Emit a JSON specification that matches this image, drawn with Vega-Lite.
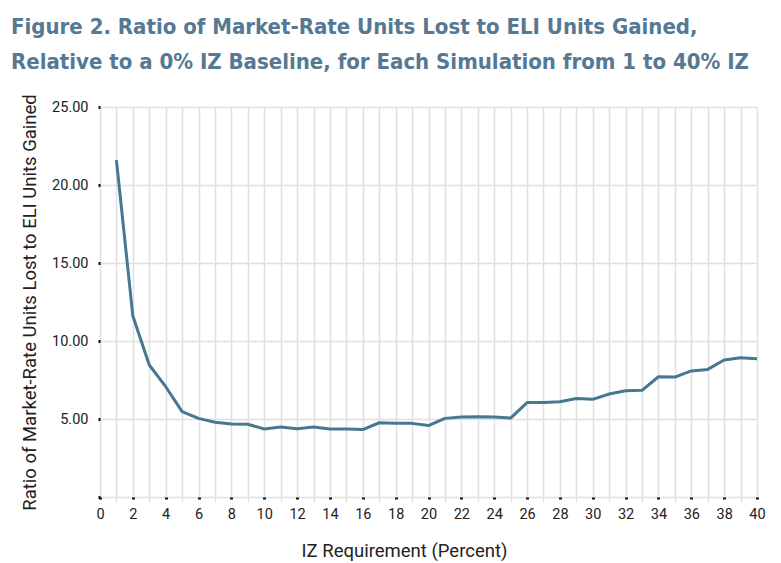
{
  "$schema": "https://vega.github.io/schema/vega-lite/v6.json",
  "autosize": {"type": "none"},
  "padding": {"left": 100, "top": 107, "right": 24, "bottom": 66},
  "width": 657,
  "height": 390,
  "background": "white",
  "title": {
    "text": ["Figure 2. Ratio of Market-Rate Units Lost to ELI Units Gained,", "Relative to a 0% IZ Baseline, for Each Simulation from 1 to 40% IZ"],
    "anchor": "start",
    "frame": "group",
    "dx": -89,
    "offset": 20,
    "font": "DejaVu Sans Condensed, sans-serif",
    "fontSize": 22,
    "fontWeight": "bold",
    "lineHeight": 35,
    "color": "#557893"
  },
  "config": {
    "view": {"stroke": null},
    "axis": {"labelFont": "Roboto", "titleFont": "Roboto", "labelColor": "#222", "titleColor": "#222", "titleFontWeight": "normal", "domain": false, "gridColor": "#e0e0e0", "gridWidth": 1.5}
  },
  "data": {"values": [
    {"iz": 1, "ratio": 21.6}, {"iz": 2, "ratio": 11.6}, {"iz": 3, "ratio": 8.46}, {"iz": 4, "ratio": 7.07},
    {"iz": 5, "ratio": 5.47}, {"iz": 6, "ratio": 5.04}, {"iz": 7, "ratio": 4.79}, {"iz": 8, "ratio": 4.68},
    {"iz": 9, "ratio": 4.66}, {"iz": 10, "ratio": 4.36}, {"iz": 11, "ratio": 4.49}, {"iz": 12, "ratio": 4.38},
    {"iz": 13, "ratio": 4.49}, {"iz": 14, "ratio": 4.36}, {"iz": 15, "ratio": 4.36}, {"iz": 16, "ratio": 4.32},
    {"iz": 17, "ratio": 4.76}, {"iz": 18, "ratio": 4.72}, {"iz": 19, "ratio": 4.72}, {"iz": 20, "ratio": 4.58},
    {"iz": 21, "ratio": 5.04}, {"iz": 22, "ratio": 5.13}, {"iz": 23, "ratio": 5.15}, {"iz": 24, "ratio": 5.13},
    {"iz": 25, "ratio": 5.06}, {"iz": 26, "ratio": 6.05}, {"iz": 27, "ratio": 6.05}, {"iz": 28, "ratio": 6.11},
    {"iz": 29, "ratio": 6.32}, {"iz": 30, "ratio": 6.26}, {"iz": 31, "ratio": 6.6}, {"iz": 32, "ratio": 6.81},
    {"iz": 33, "ratio": 6.84}, {"iz": 34, "ratio": 7.71}, {"iz": 35, "ratio": 7.69}, {"iz": 36, "ratio": 8.08},
    {"iz": 37, "ratio": 8.18}, {"iz": 38, "ratio": 8.78}, {"iz": 39, "ratio": 8.93}, {"iz": 40, "ratio": 8.87}
  ]},
  "mark": {"type": "line", "color": "#467891", "strokeWidth": 3, "strokeJoin": "round"},
  "encoding": {
    "x": {
      "field": "iz", "type": "quantitative",
      "scale": {"domain": [0, 40], "nice": false},
      "axis": {
        "values": [0,1,2,3,4,5,6,7,8,9,10,11,12,13,14,15,16,17,18,19,20,21,22,23,24,25,26,27,28,29,30,31,32,33,34,35,36,37,38,39,40],
        "labelExpr": "datum.value % 2 == 0 ? datum.label : ''",
        "labelFontSize": 14.5,
        "labelPadding": 8,
        "labelFlush": false,
        "labelOverlap": false,
        "tickColor": {"condition": {"test": "datum.value % 2 == 0", "value": "#111"}, "value": "#e0e0e0"},
        "tickSize": {"condition": {"test": "datum.value % 2 == 0", "value": 2}, "value": 5},
        "tickWidth": {"condition": {"test": "datum.value % 2 == 0", "value": 3}, "value": 1.5},
        "title": "IZ Requirement (Percent)",
        "titleFontSize": 18.5,
        "titlePadding": 18,
        "titleX": 304
      }
    },
    "y": {
      "field": "ratio", "type": "quantitative",
      "scale": {"domain": [0, 25], "nice": false},
      "axis": {
        "values": [0, 5, 10, 15, 20, 25],
        "format": ".2f",
        "labelExpr": "datum.value == 0 ? '' : datum.label",
        "labelFontSize": 14.5,
        "labelPadding": 10,
        "tickColor": "#111",
        "tickSize": 2,
        "tickWidth": 3,
        "title": "Ratio of Market-Rate Units Lost to ELI Units Gained",
        "titleFontSize": 18.5,
        "titlePadding": 12
      }
    }
  }
}
